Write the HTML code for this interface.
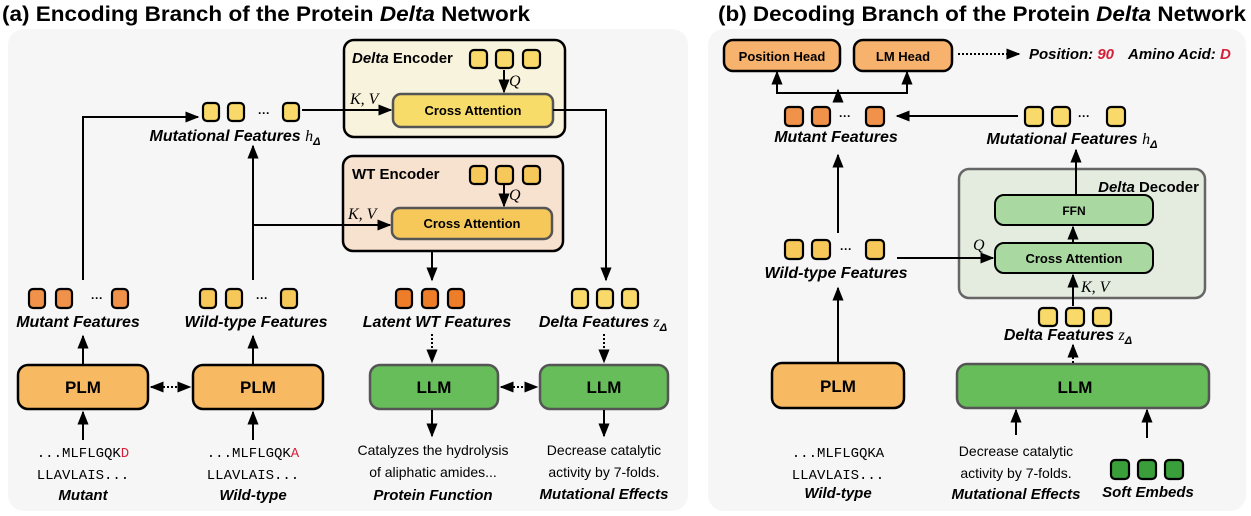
<!DOCTYPE html>
<html><head><meta charset="utf-8"><style>
html,body{margin:0;padding:0;background:#fff}
svg{display:block}
.t{font-family:"Liberation Sans",sans-serif;font-weight:bold}
.bi{font-family:"Liberation Sans",sans-serif;font-weight:bold;font-style:italic;font-size:15px}
.f{font-size:16px}
.m{font-family:"Liberation Mono",monospace;font-size:14px}
.n{font-family:"Liberation Sans",sans-serif;font-size:14px}
.s{font-family:"Liberation Serif",serif;font-style:italic;font-size:16px}
</style></head><body>
<svg width="1251" height="516" viewBox="0 0 1251 516" xmlns="http://www.w3.org/2000/svg">
<defs>
<marker id="a" viewBox="0 0 10 10" refX="9" refY="5" markerWidth="7" markerHeight="7" orient="auto-start-reverse"><path d="M0,1 L10,5 L0,9 z" fill="#000"/></marker>
</defs>
<text x="2" y="21" class="t" font-size="21" textLength="528" lengthAdjust="spacingAndGlyphs">(a) Encoding Branch of the Protein <tspan font-style="italic">Delta</tspan> Network</text>
<text x="718" y="21" class="t" font-size="21" textLength="528" lengthAdjust="spacingAndGlyphs">(b) Decoding Branch of the Protein <tspan font-style="italic">Delta</tspan> Network</text>
<rect x="8" y="29" width="680" height="482" rx="16" fill="#f6f6f6"/>
<rect x="708" y="29" width="538" height="482" rx="16" fill="#f6f6f6"/>

<rect x="344" y="40" width="221" height="97" rx="10" fill="#f8f3dc" stroke="#000" stroke-width="2.5"/>
<text x="352" y="63" class="t" font-size="15"><tspan font-style="italic">Delta</tspan> Encoder</text>
<rect x="393" y="94" width="160" height="33" rx="8" fill="#f8dc6a" stroke="#555" stroke-width="2.5"/>
<text x="473" y="115" class="t" font-size="13" text-anchor="middle">Cross Attention</text>
<text x="509" y="86" class="s">Q</text>
<text x="350" y="104" class="s">K, V</text>

<rect x="343" y="156" width="220" height="95" rx="10" fill="#f7e1cf" stroke="#000" stroke-width="2.5"/>
<text x="352" y="179" class="t" font-size="15">WT Encoder</text>
<rect x="392" y="208" width="160" height="31" rx="8" fill="#f6c85a" stroke="#555" stroke-width="2.5"/>
<text x="472" y="228" class="t" font-size="13" text-anchor="middle">Cross Attention</text>
<text x="509" y="200" class="s">Q</text>
<text x="348" y="219" class="s">K, V</text>

<g stroke="#000" stroke-width="2.2">
<g fill="#f8d96a">
<rect x="470" y="50" width="17" height="18" rx="4"/><rect x="496" y="50" width="17" height="18" rx="4"/><rect x="523" y="50" width="17" height="18" rx="4"/>
<rect x="203" y="103" width="16" height="18" rx="4"/><rect x="228" y="103" width="16" height="18" rx="4"/><rect x="283" y="103" width="16" height="18" rx="4"/>
<rect x="572" y="289" width="16" height="19" rx="4"/><rect x="597" y="289" width="16" height="19" rx="4"/><rect x="622" y="289" width="16" height="19" rx="4"/>
<rect x="1025" y="107" width="18" height="19" rx="4"/><rect x="1052" y="107" width="18" height="19" rx="4"/><rect x="1107" y="107" width="18" height="19" rx="4"/>
<rect x="1039" y="308" width="18" height="18" rx="4"/><rect x="1066" y="308" width="18" height="18" rx="4"/><rect x="1093" y="308" width="18" height="18" rx="4"/>
</g>
<g fill="#f6c85a">
<rect x="470" y="166" width="17" height="18" rx="4"/><rect x="496" y="166" width="17" height="18" rx="4"/><rect x="523" y="166" width="17" height="18" rx="4"/>
<rect x="200" y="289" width="16" height="19" rx="4"/><rect x="226" y="289" width="16" height="19" rx="4"/><rect x="281" y="289" width="16" height="19" rx="4"/>
<rect x="785" y="240" width="18" height="19" rx="4"/><rect x="812" y="240" width="18" height="19" rx="4"/><rect x="866" y="240" width="18" height="19" rx="4"/>
</g>
<g fill="#f0924a">
<rect x="29" y="289" width="16" height="19" rx="4"/><rect x="56" y="289" width="16" height="19" rx="4"/><rect x="112" y="289" width="16" height="19" rx="4"/>
<rect x="785" y="107" width="18" height="19" rx="4"/><rect x="812" y="107" width="18" height="19" rx="4"/><rect x="866" y="107" width="18" height="19" rx="4"/>
</g>
<g fill="#ee7d2a">
<rect x="396" y="289" width="16" height="19" rx="4"/><rect x="422" y="289" width="16" height="19" rx="4"/><rect x="448" y="289" width="16" height="19" rx="4"/>
</g>
<g fill="#3a9e3a">
<rect x="1111" y="460" width="18" height="19" rx="4"/><rect x="1138" y="460" width="18" height="19" rx="4"/><rect x="1165" y="460" width="18" height="19" rx="4"/>
</g>
</g>
<g class="t" font-size="12">
<text x="258" y="117">···</text><text x="91" y="302">···</text><text x="256" y="302">···</text>
<text x="839" y="120">···</text><text x="1078" y="120">···</text><text x="840" y="253">···</text>
</g>

<text x="235" y="141" class="bi f" text-anchor="middle">Mutational Features <tspan class="s" font-weight="normal">h</tspan><tspan font-size="11" dy="4">Δ</tspan></text>
<text x="78" y="327" class="bi f" text-anchor="middle">Mutant Features</text>
<text x="256" y="327" class="bi f" text-anchor="middle">Wild-type Features</text>
<text x="437" y="327" class="bi f" text-anchor="middle">Latent WT Features</text>
<text x="603" y="327" class="bi f" text-anchor="middle">Delta Features <tspan class="s" font-weight="normal">z</tspan><tspan font-size="11" dy="4">Δ</tspan></text>

<rect x="18" y="365" width="130" height="44" rx="10" fill="#f7b962" stroke="#000" stroke-width="2.5"/>
<rect x="193" y="365" width="130" height="44" rx="10" fill="#f7b962" stroke="#000" stroke-width="2.5"/>
<rect x="370" y="365" width="128" height="44" rx="10" fill="#66bd5a" stroke="#555" stroke-width="2.5"/>
<rect x="540" y="365" width="128" height="44" rx="10" fill="#66bd5a" stroke="#555" stroke-width="2.5"/>
<g class="t" font-size="17" text-anchor="middle">
<text x="83" y="393">PLM</text><text x="258" y="393">PLM</text><text x="434" y="393">LLM</text><text x="604" y="393">LLM</text>
</g>
<text x="83" y="457" class="m" text-anchor="middle">...MLFLGQK<tspan fill="#d6203b">D</tspan></text>
<text x="83" y="479" class="m" text-anchor="middle">LLAVLAIS...</text>
<text x="83" y="500" class="bi" text-anchor="middle">Mutant</text>
<text x="253" y="457" class="m" text-anchor="middle">...MLFLGQK<tspan fill="#d6203b">A</tspan></text>
<text x="253" y="479" class="m" text-anchor="middle">LLAVLAIS...</text>
<text x="253" y="500" class="bi" text-anchor="middle">Wild-type</text>
<text x="433" y="455" class="n" text-anchor="middle">Catalyzes the hydrolysis</text>
<text x="433" y="477" class="n" text-anchor="middle">of aliphatic amides...</text>
<text x="433" y="500" class="bi" text-anchor="middle">Protein Function</text>
<text x="604" y="455" class="n" text-anchor="middle">Decrease catalytic</text>
<text x="604" y="477" class="n" text-anchor="middle">activity by 7-folds.</text>
<text x="604" y="499" class="bi" text-anchor="middle">Mutational Effects</text>

<rect x="724" y="40" width="116" height="31" rx="9" fill="#f7b26e" stroke="#000" stroke-width="2.5"/>
<rect x="854" y="40" width="98" height="31" rx="9" fill="#f7b26e" stroke="#000" stroke-width="2.5"/>
<text x="782" y="61" class="t" font-size="13" text-anchor="middle">Position Head</text>
<text x="903" y="61" class="t" font-size="13" text-anchor="middle">LM Head</text>
<text x="1029" y="59" class="bi">Position: <tspan fill="#d6203b">90</tspan></text>
<text x="1128" y="59" class="bi">Amino Acid: <tspan fill="#d6203b">D</tspan></text>
<text x="836" y="142" class="bi f" text-anchor="middle">Mutant Features</text>
<text x="1072" y="144" class="bi f" text-anchor="middle">Mutational Features <tspan class="s" font-weight="normal">h</tspan><tspan font-size="11" dy="4">Δ</tspan></text>

<rect x="959" y="169" width="246" height="129" rx="10" fill="#e3ecdf" stroke="#666" stroke-width="2.5"/>
<text x="1199" y="192" class="t" font-size="15" text-anchor="end"><tspan font-style="italic">Delta</tspan> Decoder</text>
<rect x="995" y="195" width="158" height="30" rx="9" fill="#a9d8a0" stroke="#000" stroke-width="2"/>
<text x="1074" y="215" class="t" font-size="12" text-anchor="middle">FFN</text>
<rect x="995" y="243" width="158" height="30" rx="9" fill="#a9d8a0" stroke="#000" stroke-width="2"/>
<text x="1074" y="263" class="t" font-size="13" text-anchor="middle">Cross Attention</text>
<text x="973" y="250" class="s">Q</text>
<text x="1081" y="292" class="s">K, V</text>
<text x="836" y="278" class="bi f" text-anchor="middle">Wild-type Features</text>
<text x="1068" y="340" class="bi f" text-anchor="middle">Delta Features <tspan class="s" font-weight="normal">z</tspan><tspan font-size="11" dy="4">Δ</tspan></text>

<rect x="772" y="363" width="132" height="45" rx="10" fill="#f7b962" stroke="#000" stroke-width="2.5"/>
<text x="838" y="392" class="t" font-size="17" text-anchor="middle">PLM</text>
<rect x="957" y="364" width="252" height="44" rx="10" fill="#66bd5a" stroke="#555" stroke-width="2.5"/>
<text x="1075" y="393" class="t" font-size="17" text-anchor="middle">LLM</text>
<text x="838" y="457" class="m" text-anchor="middle">...MLFLGQKA</text>
<text x="838" y="479" class="m" text-anchor="middle">LLAVLAIS...</text>
<text x="838" y="498" class="bi" text-anchor="middle">Wild-type</text>
<text x="1016" y="456" class="n" text-anchor="middle">Decrease catalytic</text>
<text x="1016" y="478" class="n" text-anchor="middle">activity by 7-folds.</text>
<text x="1016" y="499" class="bi" text-anchor="middle">Mutational Effects</text>
<text x="1148" y="497" class="bi" text-anchor="middle">Soft Embeds</text>

<g stroke="#000" stroke-width="2" fill="none">
<polyline points="83,280 83,117 198,117" marker-end="url(#a)"/>
<line x1="253" y1="280" x2="253" y2="146" marker-end="url(#a)"/>
<line x1="253" y1="225" x2="390" y2="225" marker-end="url(#a)"/>
<line x1="302" y1="110" x2="391" y2="110" marker-end="url(#a)"/>
<polyline points="553,110 606,110 606,280" marker-end="url(#a)"/>
<line x1="432" y1="251" x2="432" y2="280" marker-end="url(#a)"/>
<line x1="504" y1="70" x2="504" y2="92" marker-end="url(#a)"/>
<line x1="504" y1="185" x2="504" y2="206" marker-end="url(#a)"/>
<line x1="83" y1="364" x2="83" y2="336" marker-end="url(#a)"/>
<line x1="253" y1="364" x2="253" y2="336" marker-end="url(#a)"/>
<line x1="83" y1="440" x2="83" y2="412" marker-end="url(#a)"/>
<line x1="253" y1="440" x2="253" y2="412" marker-end="url(#a)"/>
<line x1="432" y1="410" x2="432" y2="436" marker-end="url(#a)"/>
<line x1="604" y1="410" x2="604" y2="436" marker-end="url(#a)"/>
<line x1="151" y1="387" x2="190" y2="387" stroke-dasharray="2,2" marker-start="url(#a)" marker-end="url(#a)"/>
<line x1="501" y1="387" x2="537" y2="387" stroke-dasharray="2,2" marker-start="url(#a)" marker-end="url(#a)"/>
<line x1="432" y1="334" x2="432" y2="362" stroke-dasharray="2,2" marker-end="url(#a)"/>
<line x1="604" y1="334" x2="604" y2="362" stroke-dasharray="2,2" marker-end="url(#a)"/>
<polyline points="777,72 777,93 907,93 907,72" marker-start="url(#a)" marker-end="url(#a)"/>
<line x1="838" y1="102" x2="838" y2="90" marker-end="url(#a)"/>
<line x1="1018" y1="116" x2="897" y2="116" marker-end="url(#a)"/>
<line x1="1076" y1="195" x2="1076" y2="150" marker-end="url(#a)"/>
<line x1="1073" y1="243" x2="1073" y2="227" marker-end="url(#a)"/>
<line x1="1073" y1="306" x2="1073" y2="275" marker-end="url(#a)"/>
<line x1="897" y1="258" x2="993" y2="258" marker-end="url(#a)"/>
<line x1="838" y1="233" x2="838" y2="155" marker-end="url(#a)"/>
<line x1="838" y1="362" x2="838" y2="288" marker-end="url(#a)"/>
<line x1="1073" y1="363" x2="1073" y2="345" stroke-dasharray="2,2" marker-end="url(#a)"/>
<line x1="1016" y1="435" x2="1016" y2="410" marker-end="url(#a)"/>
<line x1="1147" y1="438" x2="1147" y2="410" marker-end="url(#a)"/>
<line x1="958" y1="54" x2="1019" y2="54" stroke-dasharray="2,2" marker-end="url(#a)"/>
</g>
</svg>
</body></html>
